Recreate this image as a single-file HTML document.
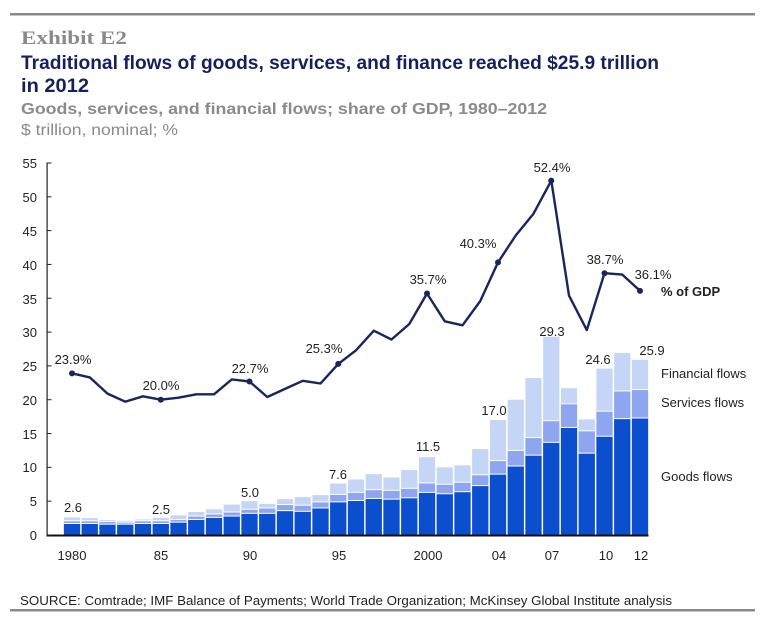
<!DOCTYPE html>
<html><head><meta charset="utf-8"><style>
html,body{margin:0;padding:0;background:#fff;width:768px;height:622px;overflow:hidden}
text{font-family:"Liberation Sans",sans-serif}
</style></head><body>
<svg id="s" width="768" height="622" viewBox="0 0 768 622" xmlns="http://www.w3.org/2000/svg">
<rect x="10" y="13" width="745" height="2.5" fill="#8a8a8a"/>
<text x="21" y="44" font-weight="bold" font-size="19" fill="#8a8a8a" style="font-family:'Liberation Serif',serif" textLength="106" lengthAdjust="spacingAndGlyphs">Exhibit E2</text>
<text x="21" y="69" font-weight="bold" font-size="19" fill="#14215e" textLength="638" lengthAdjust="spacingAndGlyphs">Traditional flows of goods, services, and finance reached $25.9 trillion</text>
<text x="21" y="92" font-weight="bold" font-size="19" fill="#14215e" textLength="68" lengthAdjust="spacingAndGlyphs">in 2012</text>
<text x="21" y="114" font-weight="bold" font-size="16" fill="#8a8a8a" textLength="526" lengthAdjust="spacingAndGlyphs">Goods, services, and financial flows; share of GDP, 1980–2012</text>
<text x="21" y="135" font-size="16" fill="#8a8a8a" textLength="157" lengthAdjust="spacingAndGlyphs">$ trillion, nominal; %</text>
<g id="bars"></g>
<g font-size="13" fill="#222" text-anchor="end">
<text x="37" y="168">55</text><text x="37" y="202">50</text><text x="37" y="236">45</text><text x="37" y="270">40</text><text x="37" y="304">35</text><text x="37" y="337">30</text><text x="37" y="371">25</text><text x="37" y="405">20</text><text x="37" y="439">15</text><text x="37" y="472">10</text><text x="37" y="506">5</text><text x="37" y="540">0</text>
</g>
<g id="axis"></g>
<g font-size="13" fill="#222" text-anchor="middle">
<text x="72" y="560">1980</text><text x="161" y="560">85</text><text x="250" y="560">90</text><text x="339" y="560">95</text><text x="428" y="560">2000</text><text x="499" y="560">04</text><text x="552" y="560">07</text><text x="606" y="560">10</text><text x="641" y="560">12</text>
</g>
<g font-size="13" fill="#222" text-anchor="middle">
<text x="73" y="512">2.6</text><text x="161" y="514">2.5</text><text x="250" y="497">5.0</text><text x="338" y="479">7.6</text><text x="428" y="451">11.5</text><text x="494" y="415">17.0</text><text x="552" y="336">29.3</text><text x="598" y="364">24.6</text><text x="652" y="355">25.9</text>
<text x="73" y="364">23.9%</text><text x="161" y="390">20.0%</text><text x="250" y="373">22.7%</text><text x="324" y="353">25.3%</text><text x="428" y="284">35.7%</text><text x="478" y="248">40.3%</text><text x="552" y="172">52.4%</text><text x="605" y="264">38.7%</text><text x="653" y="279">36.1%</text>
</g>
<g font-size="13" fill="#222">
<text x="661" y="296" font-weight="bold">% of GDP</text>
<text x="661" y="378">Financial flows</text>
<text x="661" y="407">Services flows</text>
<text x="661" y="481">Goods flows</text>
<text x="20" y="605" textLength="652" lengthAdjust="spacingAndGlyphs">SOURCE: Comtrade; IMF Balance of Payments; World Trade Organization; McKinsey Global Institute analysis</text>
</g>
<rect x="10" y="609" width="745" height="2.5" fill="#8a8a8a"/>
</svg>
<script>
var ns="http://www.w3.org/2000/svg";
var g=[1.7,1.7,1.6,1.6,1.7,1.7,1.9,2.3,2.6,2.8,3.2,3.2,3.6,3.5,4.0,4.9,5.1,5.4,5.3,5.5,6.3,6.1,6.4,7.3,9.0,10.2,11.8,13.7,15.9,12.1,14.6,17.2,17.3];
var sv=[0.4,0.4,0.4,0.3,0.4,0.4,0.4,0.5,0.5,0.6,0.6,0.8,0.9,0.9,0.9,1.1,1.2,1.3,1.3,1.4,1.4,1.4,1.4,1.6,2.0,2.3,2.6,3.2,3.5,3.3,3.7,4.1,4.2];
var t=[2.6,2.5,2.2,2.1,2.3,2.5,2.9,3.4,3.8,4.5,5.0,4.6,5.3,5.6,5.9,7.6,8.2,9.0,8.5,9.6,11.5,10.0,10.3,12.7,17.0,20.0,23.2,29.3,21.7,17.1,24.6,26.9,25.9];
var p=[23.9,23.3,20.9,19.7,20.5,20.0,20.3,20.8,20.8,23.0,22.7,20.4,21.6,22.8,22.4,25.3,27.3,30.2,28.9,31.2,35.7,31.6,31.0,34.6,40.3,44.3,47.5,52.4,35.4,30.3,38.7,38.5,36.1];
var y0=535,k=6.764,dx=17.75,x0=72;
function Y(v){return y0-v*k}
function R(par,x,y,w,h,c){var r=document.createElementNS(ns,"rect");r.setAttribute("x",x);r.setAttribute("y",y);r.setAttribute("width",w);r.setAttribute("height",Math.max(h,0));r.setAttribute("fill",c);par.appendChild(r);}
var B=document.getElementById("bars");
for(var i=0;i<33;i++){var cx=x0+i*dx,x=cx-8.1,w=16.2;
R(B,x,Y(t[i]),w,t[i]*k,"#c4d5f5");
R(B,x,Y(g[i]+sv[i]),w,(g[i]+sv[i])*k,"#8ea5ef");
R(B,x,Y(g[i]),w,g[i]*k,"#0b4fcf");
R(B,x,Y(g[i])-0.5,w,1,"#ffffff");R(B,x,Y(g[i]+sv[i])-0.5,w,1,"#ffffff");}
var A=document.getElementById("axis");
R(A,46.5,163,1.2,373,"#222");R(A,46.5,534.5,602,2,"#111");
for(var j=0;j<=11;j++)R(A,46.5,Y(j*5)-0.5,5,1,"#222");
var d="";for(var i=0;i<33;i++)d+=(i?"L":"M")+(x0+i*dx).toFixed(1)+","+Y(p[i]).toFixed(1);
var pl=document.createElementNS(ns,"path");pl.setAttribute("d",d);pl.setAttribute("fill","none");pl.setAttribute("stroke","#17265e");pl.setAttribute("stroke-width","2.4");pl.setAttribute("stroke-linejoin","round");A.appendChild(pl);
[0,5,10,15,20,24,27,30,32].forEach(function(i){var c=document.createElementNS(ns,"circle");c.setAttribute("cx",x0+i*dx);c.setAttribute("cy",Y(p[i]));c.setAttribute("r",3);c.setAttribute("fill","#17265e");A.appendChild(c);});
</script>
</body></html>
